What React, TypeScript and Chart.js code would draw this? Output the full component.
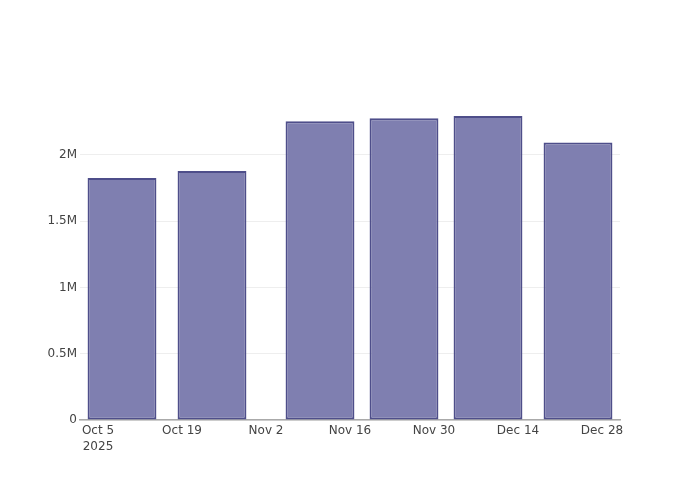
import React, { useEffect, useRef } from "react";
import { Chart, registerables } from "chart.js";

Chart.register(...registerables);

const BASE_DATE = "2025-10-05";
const barDates = ["2025-10-09", "2025-10-24", "2025-11-11", "2025-11-25", "2025-12-09", "2025-12-24"];
const barValues = [1826000, 1880000, 2255000, 2277000, 2295000, 2094000];
const xTickDates = ["2025-10-05", "2025-10-19", "2025-11-02", "2025-11-16", "2025-11-30", "2025-12-14", "2025-12-28"];
const xTickLabels: (string | string[])[] = [["Oct 5", "2025"], "Oct 19", "Nov 2", "Nov 16", "Nov 30", "Dec 14", "Dec 28"];
const yTickValues = [0, 500000, 1000000, 1500000, 2000000];
const yTickLabels = ["0", "0.5M", "1M", "1.5M", "2M"];
const X_MIN_DATE = "2025-10-02";
const X_MAX_DATE = "2025-12-31";
const Y_MAX = 2415000;

const DAY = 86400000;
const dayOf = (d: string) => (Date.parse(d + "T00:00:00Z") - Date.parse(BASE_DATE + "T00:00:00Z")) / DAY;

export default function App() {
  const ref = useRef<HTMLCanvasElement | null>(null);
  useEffect(() => {
    if (!ref.current) return;
    const tickDays = xTickDates.map(dayOf);
    const chart = new Chart(ref.current, {
      type: "bar",
      data: {
        datasets: [
          {
            data: barDates.map((d, i) => ({ x: dayOf(d), y: barValues[i] })),
            backgroundColor: "rgb(127,127,176)",
            borderColor: "rgb(78,78,138)",
            borderWidth: 2,
            borderSkipped: false,
            inflateAmount: 0,
            categoryPercentage: 0.8,
            barPercentage: 1.025,
          },
        ],
      },
      options: {
        responsive: false,
        animation: false,
        layout: { padding: { left: 0, right: 80, top: 100, bottom: 0 } },
        plugins: { legend: { display: false }, tooltip: { enabled: false } },
        scales: {
          x: {
            type: "linear",
            min: dayOf(X_MIN_DATE),
            max: dayOf(X_MAX_DATE),
            offset: false,
            grid: { display: false, drawTicks: false },
            border: { display: true, color: "#aaaaaa", width: 1.5 },
            afterBuildTicks: (scale: any) => {
              scale.ticks = tickDays.map((v) => ({ value: v }));
            },
            afterFit: (scale: any) => {
              scale.height = 80;
            },
            ticks: {
              autoSkip: false,
              maxRotation: 0,
              minRotation: 0,
              padding: 3,
              color: "#444",
              font: { family: "DejaVu Sans", size: 12, lineHeight: 1.3 },
              callback: (v: any) => {
                const i = tickDays.indexOf(Number(v));
                return i >= 0 ? xTickLabels[i] : "";
              },
            },
          },
          y: {
            type: "linear",
            min: 0,
            max: Y_MAX,
            grid: { color: "#eeeeee", lineWidth: 1, drawTicks: false },
            border: { display: false },
            afterBuildTicks: (scale: any) => {
              scale.ticks = yTickValues.map((v) => ({ value: v }));
            },
            afterFit: (scale: any) => {
              scale.width = 80;
            },
            ticks: {
              padding: 3,
              color: "#444",
              font: { family: "DejaVu Sans", size: 12 },
              callback: (v: any) => {
                const i = yTickValues.indexOf(Number(v));
                return i >= 0 ? yTickLabels[i] : "";
              },
            },
          },
        },
      },
    } as any);
    return () => chart.destroy();
  }, []);
  return (
    <div style={{ position: "fixed", left: 0, top: 0, width: 700, height: 500, background: "#fff" }}>
      <canvas ref={ref} width={700} height={500} style={{ width: 700, height: 500 }} />
    </div>
  );
}
